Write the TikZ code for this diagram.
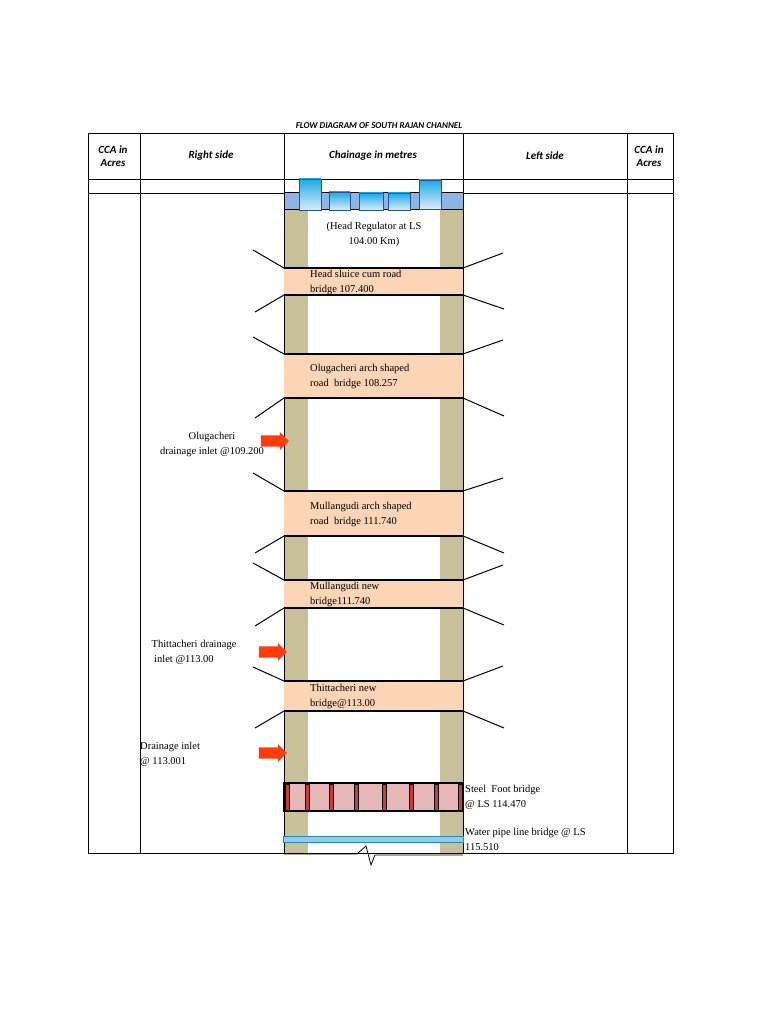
\documentclass[tikz,border=0pt]{standalone}
\usepackage{fontspec}
\setmainfont{Liberation Serif}
\newfontfamily\hfont{Carlito}
\begin{document}
\begin{tikzpicture}[x=1pt,y=-1pt,
  hd/.style={font=\hfont\bfseries\itshape\fontsize{11}{13}\selectfont,align=center},
  lbl/.style={font=\fontsize{10.5}{15}\selectfont,align=left,anchor=west,inner sep=0},
  bank/.style={fill={rgb,255:red,200;green,192;blue,152}},
  peach/.style={fill={rgb,255:red,251;green,213;blue,181}},
  bl/.style={line width=1.8pt},
  dg/.style={line width=1pt},
  blk/.style={draw={rgb,255:red,40;green,80;blue,150},line width=0.8pt,top color={rgb,255:red,30;green,170;blue,230},bottom color={rgb,255:red,220;green,235;blue,250}},
  inarrow/.style={single arrow,fill={rgb,255:red,255;green,60;blue,10},minimum height=28,minimum width=18,single arrow head extend=2,inner sep=3}]
\usetikzlibrary{shapes.arrows}
\useasboundingbox[fill=white] (0,0) rectangle (768,1024);
\node[font=\hfont\bfseries\itshape\fontsize{9}{10}\selectfont] (title) at (379,126) {FLOW DIAGRAM OF SOUTH RAJAN CHANNEL};
% channel
\fill[bank] (284,210) rectangle (308,853);
\fill[bank] (440,210) rectangle (463,853);
% table
\draw[line width=0.6pt] (88,133) rectangle (673,853);
\foreach \x in {140,284,463,627} \draw[line width=0.6pt] (\x,133) -- (\x,853);
\draw[line width=0.6pt] (88,179) -- (673,179) (88,193) -- (673,193);
\node[hd] (h1) at (113,156) {CCA in\\Acres};
\node[hd] (h2) at (211,156) {Right side};
\node[hd] (h3) at (373,156) {Chainage in metres};
\node[hd] (h4) at (545,156) {Left side};
\node[hd] (h5) at (649,156) {CCA in\\Acres};
% head regulator
\draw[line width=1pt,fill={rgb,255:red,140;green,180;blue,230}] (284,193) rectangle (463,210);
\draw[blk] (299,179) rectangle (321,210);
\draw[blk] (329,192) rectangle (350,210);
\draw[blk] (359,193) rectangle (383,210);
\draw[blk] (388,193) rectangle (410,210);
\draw[blk] (419,180) rectangle (441,209);
\draw[line width=0.8pt] (284,210) -- (284,268) (463,210) -- (463,268);
\node[font=\fontsize{10.5}{15}\selectfont,align=center] (hr) at (374,234) {(Head Regulator at LS\\104.00 Km)};
% bridges
\foreach \a/\b/\la/\ra/\lb/\rb in {268/295/250/253/312/309, 354/398/337/340/418/416, 491/536/473/478/553/553, 580/608/563/565/626/625, 681/711/667/666/728/728}{
  \fill[peach] (284,\a) rectangle (463,\b);
  \draw[bl] (284,\a) -- (463,\a) (284,\b) -- (463,\b);
  \draw[dg] (253,\la) -- (284,\a) (463,\a) -- (503,\ra) (255,\lb) -- (284,\b) (463,\b) -- (504,\rb);
}
\node[lbl] (b1) at (310,282) {Head sluice cum road\\bridge 107.400};
\node[lbl] (b2) at (310,376) {Olugacheri arch shaped\\road\ \ bridge 108.257};
\node[lbl] (b3) at (310,514) {Mullangudi arch shaped\\road\ \ bridge 111.740};
\node[lbl] (b4) at (310,594) {Mullangudi new\\bridge111.740};
\node[lbl] (b5) at (310,696) {Thittacheri new\\bridge@113.00};
% steel foot bridge
\draw[line width=1.2pt,fill={rgb,255:red,230;green,184;blue,184}] (284,783) rectangle (463,811);
\foreach \x in {287,307,331,356,384,411,436,460}
  \draw[fill={rgb,255:red,200;green,60;blue,60},line width=0.5pt] (\x-2,784) rectangle (\x+2,810);
\node[lbl] (sb) at (465,797) {Steel\ \ Foot bridge\\@ LS 114.470};
% pipe
\draw[line width=1pt,draw={rgb,255:red,40;green,140;blue,160},fill={rgb,255:red,150;green,200;blue,240}] (283,836) rectangle (463,842);
\node[lbl] (wp) at (465,839) {Water pipe line bridge @ LS\\115.510};
% bottom break
\draw[line width=0.8pt] (284,854) -- (357,854) -- (366,846) -- (371,865) -- (375,855) -- (463,855);
% inlets
\node[inarrow] (a1) at (272,441) {};
\node[inarrow] (a2) at (270,652) {};
\node[inarrow] (a3) at (270,753) {};
\node[font=\fontsize{10.5}{15}\selectfont,align=center] (l1) at (212,444) {Olugacheri\\drainage inlet @109.200};
\node[font=\fontsize{10.5}{15}\selectfont,align=left] (l2) at (194,652) {Thittacheri drainage\\\ inlet @113.00};
\node[lbl] (l3) at (140,754) {Drainage inlet\\@ 113.001};
\end{tikzpicture}
\end{document}
